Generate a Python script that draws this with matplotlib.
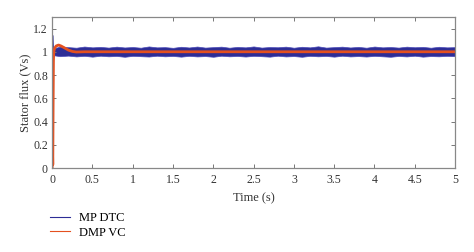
import numpy as np
import matplotlib.pyplot as plt

plt.rcParams['font.family'] = ['Liberation Serif', 'DejaVu Serif']

# DMP VC flux trajectory
vc_t = [0, 0.004, 0.008, 0.012, 0.016, 0.02, 0.03, 0.05, 0.08, 0.11, 0.15, 0.2, 0.25, 0.3, 0.4, 0.6, 5.0]
vc_flux = [0, 0.16, 0.03, 0.55, 0.92, 1.0, 1.03, 1.05, 1.058, 1.05, 1.035, 1.015, 1.003, 0.998, 1.0, 1.0, 1.0]

# MP DTC start-up spike
dtc_t = [0, 0.006, 0.012, 0.02]
dtc_flux = [0, 1.14, 1.02, 0.98]

# MP DTC ripple envelope, every 0.1 s
env_t = [0.02, 0.1, 0.2, 0.3, 0.4, 0.5, 0.6, 0.7, 0.8, 0.9, 1.0, 1.1, 1.2, 1.3, 1.4, 1.5, 1.6,
         1.7, 1.8, 1.9, 2.0, 2.1, 2.2, 2.3, 2.4, 2.5, 2.6, 2.7, 2.8, 2.9, 3.0, 3.1, 3.2, 3.3,
         3.4, 3.5, 3.6, 3.7, 3.8, 3.9, 4.0, 4.1, 4.2, 4.3, 4.4, 4.5, 4.6, 4.7, 4.8, 4.9, 5.0]
env_hi = [1.03, 1.045, 1.04, 1.035, 1.045, 1.038, 1.042, 1.036, 1.044, 1.037, 1.041, 1.035, 1.046,
          1.038, 1.04, 1.034, 1.043, 1.037, 1.045, 1.036, 1.04, 1.044, 1.035, 1.042, 1.038, 1.046,
          1.036, 1.041, 1.039, 1.044, 1.035, 1.043, 1.038, 1.047, 1.036, 1.04, 1.044, 1.037, 1.042,
          1.035, 1.045, 1.038, 1.041, 1.036, 1.044, 1.039, 1.042, 1.035, 1.043, 1.038, 1.04]
env_lo = [0.97, 0.962, 0.967, 0.96, 0.965, 0.958, 0.966, 0.961, 0.964, 0.957, 0.965, 0.962, 0.959,
          0.966, 0.961, 0.964, 0.958, 0.965, 0.96, 0.963, 0.957, 0.966, 0.961, 0.964, 0.959, 0.965,
          0.962, 0.958, 0.966, 0.96, 0.963, 0.957, 0.965, 0.961, 0.964, 0.958, 0.966, 0.96, 0.963,
          0.959, 0.965, 0.961, 0.957, 0.964, 0.96, 0.966, 0.958, 0.963, 0.961, 0.965, 0.962]

blue = '#2d2d96'
red = '#e4501f'

fig = plt.figure(figsize=(4.74, 2.52), dpi=100)
ax = fig.add_axes([0.11, 0.333, 0.85, 0.60])

ax.fill_between(env_t, env_lo, env_hi, facecolor=blue, edgecolor='#4a4ab8', lw=0.5)
ax.plot(dtc_t, dtc_flux, color=blue, lw=0.9)
ax.plot(vc_t, vc_flux, color=red, lw=2.0)

ax.set_xlim(0, 5)
ax.set_ylim(0, 1.3)
ax.set_xticks(np.arange(0, 5.01, 0.5))
ax.set_xticklabels(['0', '0.5', '1', '1.5', '2', '2.5', '3', '3.5', '4', '4.5', '5'])
ax.set_yticks([0, 0.2, 0.4, 0.6, 0.8, 1.0, 1.2])
ax.set_yticklabels(['0', '0.2', '0.4', '0.6', '0.8', '1', '1.2'])
ax.tick_params(direction='in', top=True, right=True, length=3, width=0.7,
               colors='#777777', labelcolor='#333333', labelsize=8.5)
ax.tick_params(axis='x', pad=4)
ax.tick_params(axis='y', pad=3)
for s in ax.spines.values():
    s.set_color('#888888')
    s.set_linewidth(0.9)
ax.set_xlabel('Time (s)', fontsize=9, color='#333333', labelpad=5)
ax.set_ylabel('Stator flux (Vs)', fontsize=9, color='#333333', labelpad=1)

h1, = ax.plot([], [], color=blue, lw=0.8)
h2, = ax.plot([], [], color=red, lw=0.8)
fig.legend([h1, h2], ['MP DTC', 'DMP VC'], loc='upper left', bbox_to_anchor=(0.105, 0.158),
           frameon=False, fontsize=9, handlelength=1.6, handletextpad=0.7,
           labelspacing=0.2, borderpad=0, borderaxespad=0)

fig.savefig('out.png', dpi=100)
